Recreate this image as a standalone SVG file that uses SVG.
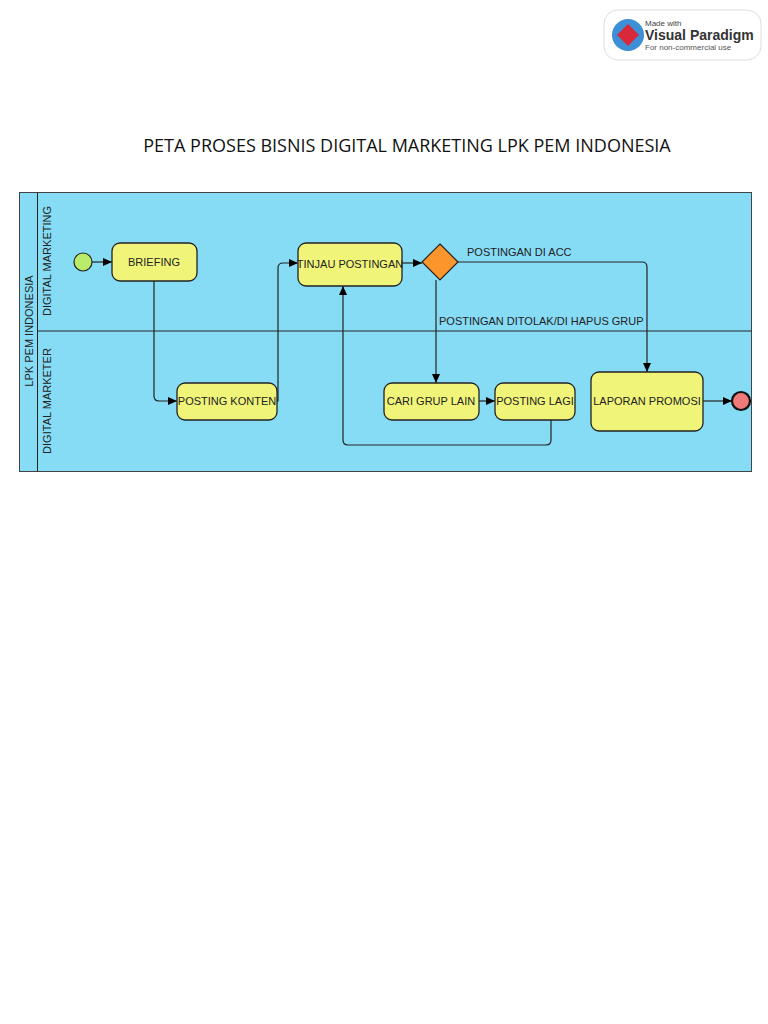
<svg xmlns="http://www.w3.org/2000/svg" width="768" height="1024" viewBox="0 0 768 1024">
<defs>
<marker id="ar" markerWidth="10" markerHeight="8" refX="9" refY="4" orient="auto" markerUnits="userSpaceOnUse"><path d="M0,0 L9,4 L0,8 z" fill="#000"/></marker>
</defs>
<style>
text{font-family:"Liberation Sans",Arial,sans-serif;font-size:11px;fill:#222}
.n{fill:#f0f57a;stroke:#222;stroke-width:1.3}
.c{fill:none;stroke:#222;stroke-width:1.2;marker-end:url(#ar)}
</style>
<rect width="768" height="1024" fill="#fff"/>
<g id="logo">
<rect x="604" y="10" width="157" height="50" rx="14" fill="#fff" stroke="#ddd"/>
<circle cx="628" cy="35" r="16" fill="#3d8fd6"/>
<path d="M628,24 L639,35 L628,46 L617,35 z" fill="#d8283a"/>
<text x="645" y="26" style="font-size:8px;fill:#444">Made with</text>
<text x="645" y="40" style="font-size:14px;font-weight:bold;fill:#333">Visual Paradigm</text>
<text x="645" y="50" style="font-size:8px;fill:#555">For non-commercial use</text>
</g>
<text x="407" y="152" text-anchor="middle" style="font-family:'Open Sans','Liberation Sans',sans-serif;font-size:18px;fill:#111">PETA PROSES BISNIS DIGITAL MARKETING LPK PEM INDONESIA</text>
<g id="pool">
<rect x="19.5" y="192.5" width="732" height="279" fill="#87dcf5" stroke="#444"/>
<line x1="37.5" y1="192.5" x2="37.5" y2="471.5" stroke="#222"/>
<line x1="37.5" y1="331" x2="751.5" y2="331" stroke="#222"/>
<text transform="translate(33,331) rotate(-90)" text-anchor="middle">LPK PEM INDONESIA</text>
<text transform="translate(51,261) rotate(-90)" text-anchor="middle">DIGITAL MARKETING</text>
<text transform="translate(51,401) rotate(-90)" text-anchor="middle">DIGITAL MARKETER</text>
</g>
<g id="connectors">
<path class="c" d="M92,262 H112"/>
<path class="c" d="M154,281 V396 Q154,401 159,401 H177"/>
<path class="c" d="M277,401 H278 V268 Q278,263 283,263 H298"/>
<path class="c" d="M402,263 H422"/>
<path class="c" d="M458,262 H642 Q647,262 647,267 V372"/>
<path class="c" d="M436,280 V383"/>
<path class="c" d="M479,401 H495"/>
<path class="c" d="M551,420 V440 Q551,445 546,445 H348 Q343,445 343,440 V286"/>
<path class="c" d="M703,401 H732"/>
<text x="467" y="256">POSTINGAN DI ACC</text>
<text x="439" y="325">POSTINGAN DITOLAK/DI HAPUS GRUP</text>
</g>
<g id="start"><circle cx="83" cy="262" r="9" fill="#b8ec6a" stroke="#222" stroke-width="1.2"/></g>
<g id="briefing"><rect class="n" x="112" y="243" width="85" height="38" rx="8"/><text x="154" y="266" text-anchor="middle">BRIEFING</text></g>
<g id="tinjau"><rect class="n" x="298" y="243" width="104" height="43" rx="8"/><text x="350" y="268" text-anchor="middle">TINJAU POSTINGAN</text></g>
<g id="decision"><path d="M440,244 L458,262 L440,280 L422,262 z" fill="#fb952c" stroke="#222" stroke-width="1.2"/></g>
<g id="posting-konten"><rect class="n" x="177" y="383" width="100" height="37" rx="8"/><text x="227" y="405" text-anchor="middle">POSTING KONTEN</text></g>
<g id="cari"><rect class="n" x="384" y="383" width="95" height="37" rx="8"/><text x="431" y="405" text-anchor="middle">CARI GRUP LAIN</text></g>
<g id="posting-lagi"><rect class="n" x="495" y="383" width="80" height="37" rx="8"/><text x="535" y="405" text-anchor="middle">POSTING LAGI</text></g>
<g id="laporan"><rect class="n" x="591" y="372" width="112" height="59" rx="8"/><text x="647" y="405" text-anchor="middle">LAPORAN PROMOSI</text></g>
<g id="end"><circle cx="741" cy="401" r="9" fill="#f07a7a" stroke="#111" stroke-width="2.2"/></g>
</svg>
